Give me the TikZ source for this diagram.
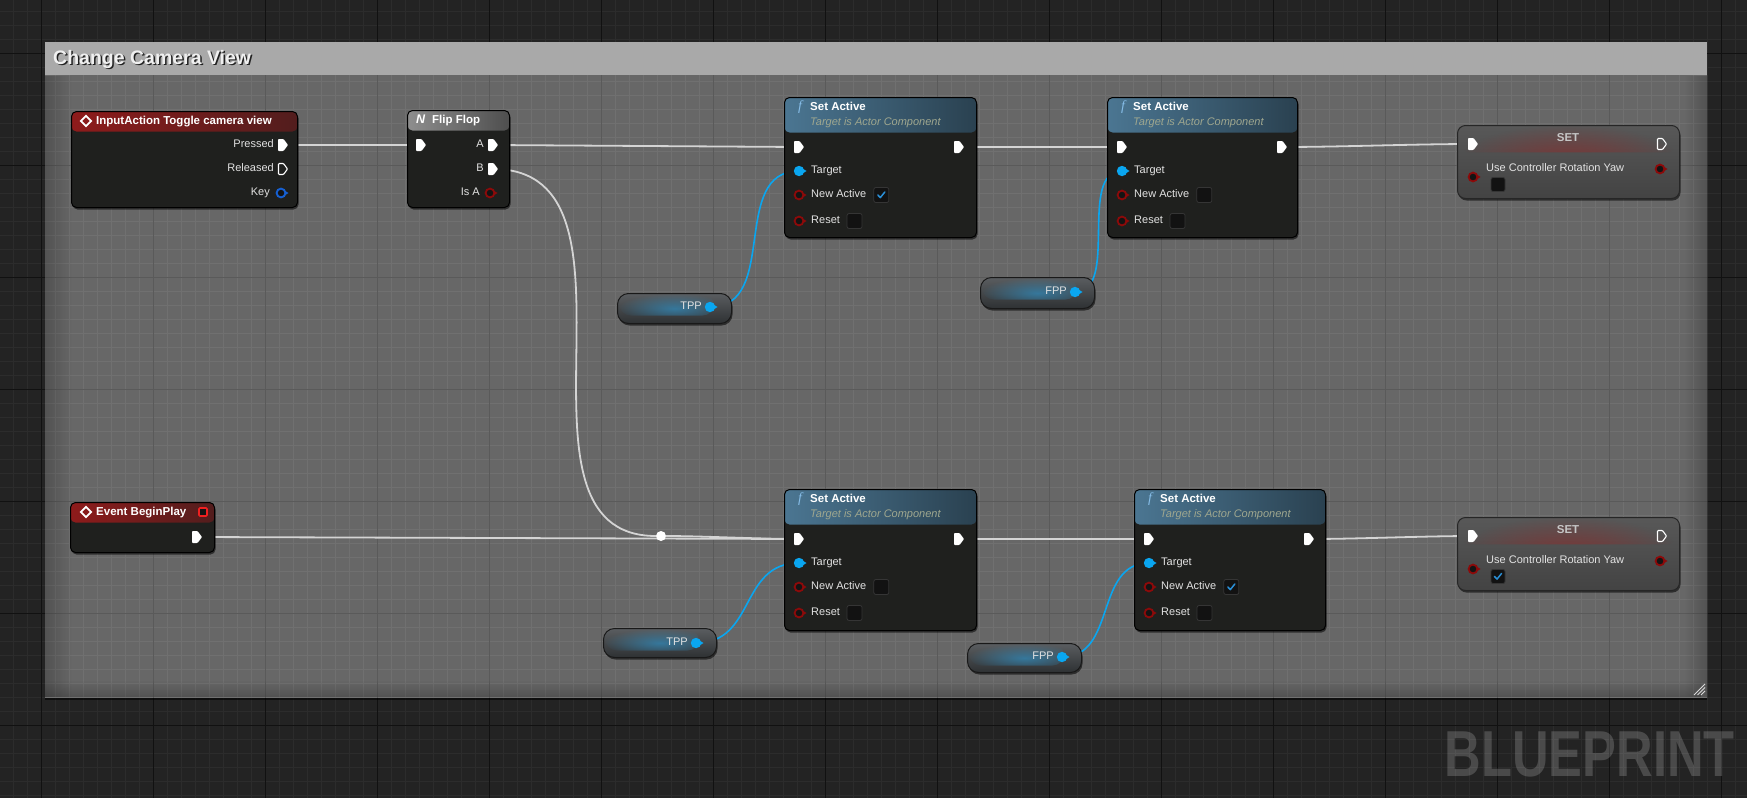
\documentclass[tikz,border=0pt]{standalone}
\usepackage{fontspec}
\setmainfont{Liberation Sans}
\newfontfamily\iconserif{Liberation Serif}
\usetikzlibrary{positioning,shapes.geometric,shadows,fadings}
\definecolor{cCanvas}{HTML}{232323}
\definecolor{cGridFine}{HTML}{2C2C2C}
\definecolor{cGridMajor}{HTML}{111111}
\definecolor{cComment}{HTML}{676767}
\definecolor{cCommentFine}{HTML}{707070}
\definecolor{cCommentMajor}{HTML}{5A5A5A}
\definecolor{cCommentHead}{HTML}{A9A9A9}
\definecolor{cBody}{HTML}{1F201E}
\definecolor{cEventL}{HTML}{8E1B1B}
\definecolor{cEventR}{HTML}{521D1D}
\definecolor{cMacroL}{HTML}{8E8E8E}
\definecolor{cMacroR}{HTML}{4E4E4E}
\definecolor{cFuncL}{HTML}{4B7692}
\definecolor{cFuncR}{HTML}{2A4150}
\definecolor{cFuncSub}{HTML}{9FA78F}
\definecolor{cFuncIcon}{HTML}{86BDE8}
\definecolor{cSetTop}{HTML}{585858}
\definecolor{cSetBot}{HTML}{434343}
\definecolor{cSetGlow}{HTML}{8E2C2C}
\definecolor{cVarTop}{HTML}{5A5D60}
\definecolor{cVarBot}{HTML}{2E3133}
\definecolor{cVarGlow}{HTML}{2E92C8}
\definecolor{cText}{HTML}{E2E2E2}
\definecolor{cSetTitle}{HTML}{C6C6C6}
\definecolor{cWire}{HTML}{D4D4D4}
\definecolor{cObj}{HTML}{0AA6F0}
\definecolor{cBool}{HTML}{8C0A0A}
\definecolor{cStruct}{HTML}{1660D2}
\definecolor{cHole}{HTML}{141414}
\definecolor{cBoxFill}{HTML}{121212}
\definecolor{cBoxEdge}{HTML}{353535}
\definecolor{cCheck}{HTML}{2A8FD6}
\definecolor{cRedIcon}{HTML}{F02020}
\pgfdeclarelayer{bg}
\pgfdeclarelayer{wires}
\pgfsetlayers{bg,wires,main}
\tikzfading[name=fade-right, left color=transparent!0, right color=transparent!100]
\tikzfading[name=fade-left, left color=transparent!100, right color=transparent!0]
\tikzfading[name=fade-up, top color=transparent!100, bottom color=transparent!0]
\tikzfading[name=fade-glow, inner color=transparent!0, outer color=transparent!100]
\tikzset{
  grid-fine/.style={draw=cGridFine,line width=1pt},
  grid-major/.style={draw=cGridMajor,line width=1.2pt},
  comment-fine/.style={draw=cCommentFine,line width=1pt},
  comment-major/.style={draw=cCommentMajor,line width=1.2pt},
  node-shadow/.style={drop shadow={shadow xshift=1pt,shadow yshift=-2pt,opacity=0.55,fill=black}},
  node-body/.style={draw=black,line width=1pt,fill=cBody,rounded corners=5pt,
    anchor=north west,inner sep=0pt,node-shadow},
  head-event/.style={path picture={\shade[left color=cEventL,right color=cEventR]
    (path picture bounding box.north west) rectangle ([yshift=-#1]path picture bounding box.north east);}},
  head-macro/.style={path picture={\shade[left color=cMacroL,right color=cMacroR]
    (path picture bounding box.north west) rectangle ([yshift=-#1]path picture bounding box.north east);}},
  head-func/.style={path picture={\shade[left color=cFuncL,right color=cFuncR]
    (path picture bounding box.north west) rectangle ([yshift=-#1]path picture bounding box.north east);}},
  set-body/.style={draw=black!85,line width=1pt,rounded corners=8pt,anchor=north west,inner sep=0pt,
    top color=cSetTop,bottom color=cSetBot,node-shadow,
    path picture={\fill[cSetGlow,opacity=0.7,path fading=fade-glow]
      ([xshift=4pt,yshift=1pt]path picture bounding box.north west) rectangle
      ([xshift=-4pt,yshift=-27pt]path picture bounding box.north east);}},
  var-body/.style={draw=black!90,line width=1pt,rounded corners=11pt,anchor=north west,inner sep=0pt,
    top color=cVarTop,bottom color=cVarBot,node-shadow,
    path picture={\fill[cVarGlow,opacity=0.65,path fading=fade-glow]
      ([xshift=2pt,yshift=0pt]path picture bounding box.north west) rectangle
      ([xshift=-18pt,yshift=-22pt]path picture bounding box.north east);}},
  title-text/.style={font=\fontsize{11.5}{13}\selectfont\bfseries,text=white,inner sep=0pt,
    anchor=west,text height=8.5pt,text depth=2.5pt},
  sub-text/.style={font=\fontsize{11}{13}\selectfont\itshape,text=cFuncSub,inner sep=0pt,
    anchor=west,text height=8pt,text depth=2.3pt},
  pin-label/.style={font=\fontsize{11}{13}\selectfont,text=cText,inner sep=0pt,
    text height=8pt,text depth=2.3pt},
  func-icon/.style={font=\fontsize{14}{14}\selectfont\iconserif\itshape,text=cFuncIcon,inner sep=0pt},
  event-icon/.style={diamond,draw=white,line width=1.7pt,inner sep=0pt,minimum size=11pt},
  check-box/.style={draw=cBoxEdge,fill=cBoxFill,line width=0.8pt,rounded corners=2pt,
    minimum size=15pt,inner sep=0pt},
  knot/.style={circle,fill=white,minimum size=10pt,inner sep=0pt},
  wire-exec/.style={draw=cWire,line width=1.8pt},
  wire-obj/.style={draw=cObj,line width=1.6pt},
  pics/pin-exec/.style={code={\fill[white,rounded corners=0.8pt]
    (-5,-6) -- (0.5,-6) -- (5,0) -- (0.5,6) -- (-5,6) -- cycle;}},
  pics/pin-exec-open/.style={code={\draw[white,line width=1.1pt,rounded corners=0.8pt]
    (-4.5,-5.5) -- (0.5,-5.5) -- (4.5,0) -- (0.5,5.5) -- (-4.5,5.5) -- cycle;}},
  pics/pin-obj/.style={code={\fill[cObj] (3,-2.8) -- (7.5,0) -- (3,2.8) -- cycle;
    \fill[cObj] (0,0) circle[radius=5.2];}},
  pics/pin-bool/.style={code={\fill[cBool] (3,-2.8) -- (7.5,0) -- (3,2.8) -- cycle;
    \draw[cBool,line width=1.8pt,fill=cHole] (0,0) circle[radius=4.4];}},
  pics/pin-struct/.style={code={\fill[cStruct] (3,-2.8) -- (7.5,0) -- (3,2.8) -- cycle;
    \draw[cStruct,line width=1.9pt,fill=cHole] (0,0) circle[radius=4.4];}},
  pics/check-tick/.style={code={\draw[cCheck,line width=1.5pt,line cap=round,line join=round]
    (-3.5,0) -- (-1,2.6) -- (3.5,-3);}},
}
\begin{document}
\begin{tikzpicture}[x=1pt,y=-1pt]
\useasboundingbox (0,0) rectangle (1747,798);

% canvas and comment box
\begin{pgfonlayer}{bg}
  \fill[cCanvas] (0,0) rectangle (1747,798);
  \foreach \k in {0,...,124} \draw[grid-fine] ({13.7+14*\k},0) -- ({13.7+14*\k},798);
  \foreach \k in {0,...,56} \draw[grid-fine] (0,{11.3+14*\k}) -- (1747,{11.3+14*\k});
  \foreach \k in {0,...,15} \draw[grid-major] ({41.7+112*\k},0) -- ({41.7+112*\k},798);
  \foreach \k in {0,...,6} \draw[grid-major] (0,{53.3+112*\k}) -- (1747,{53.3+112*\k});
  \fill[cComment,drop shadow={shadow xshift=0pt,shadow yshift=-3pt,opacity=0.6,fill=black}]
    (45,42) rectangle (1707,697);
  \begin{scope}
    \clip (45,75) rectangle (1707,697);
    \foreach \k in {0,...,124} \draw[comment-fine] ({13.7+14*\k},0) -- ({13.7+14*\k},798);
    \foreach \k in {0,...,56} \draw[comment-fine] (0,{11.3+14*\k}) -- (1747,{11.3+14*\k});
    \foreach \k in {0,...,15} \draw[comment-major] ({41.7+112*\k},0) -- ({41.7+112*\k},798);
    \foreach \k in {0,...,6} \draw[comment-major] (0,{53.3+112*\k}) -- (1747,{53.3+112*\k});
    \fill[black,opacity=0.2,path fading=fade-right] (45,75) rectangle (72,697);
    \fill[black,opacity=0.2,path fading=fade-left] (1684,75) rectangle (1707,697);
    \fill[black,opacity=0.2,path fading=fade-up] (45,680) rectangle (1707,697);
  \end{scope}
  \fill[cCommentHead] (45,42) rectangle (1707,75);
\end{pgfonlayer}
\node[font=\fontsize{19.5}{22}\selectfont\bfseries,text=black,opacity=0.8,inner sep=0pt,anchor=west]
  (cv-title-shadow) at (54.5,60.5) {Change Camera View};
\node[font=\fontsize{19.5}{22}\selectfont\bfseries,text=white!94!black,inner sep=0pt,anchor=west]
  (cv-title) at (53,59) {Change Camera View};
\foreach \i in {0,3.5,7}
  \draw[white!85!black,line width=0.9pt] (1694+\i,695) -- (1705,684+\i);

% InputAction node
\node[node-body,head-event=20pt,minimum width=226pt,minimum height=96pt] (ia) at (71,111) {};
\node[event-icon] (ia-icon) at (86,121) {};
\node[title-text] (ia-title) at (96,121) {InputAction Toggle camera view};
\coordinate (ia-pressed) at (283,145);
\coordinate (ia-released) at (283,169);
\coordinate (ia-key) at (281,193);
\pic at (ia-pressed) {pin-exec};
\pic at (ia-released) {pin-exec-open};
\pic at (ia-key) {pin-struct};
\node[pin-label,left=9pt of ia-pressed] (ia-pressed-l) {Pressed};
\node[pin-label,left=9pt of ia-released] (ia-released-l) {Released};
\node[pin-label,left=11pt of ia-key] (ia-key-l) {Key};

% Flip Flop node
\node[node-body,head-macro=20pt,minimum width=102pt,minimum height=97pt] (ff) at (407,110) {};
\node[title-text,font=\fontsize{12.5}{13}\selectfont\bfseries\itshape] (ff-icon) at (416,120) {N};
\node[title-text] (ff-title) at (432,120) {Flip Flop};
\coordinate (ff-in) at (421,145);
\coordinate (ff-a) at (493,145);
\coordinate (ff-b) at (493,169);
\coordinate (ff-isa) at (490,193);
\pic at (ff-in) {pin-exec};
\pic at (ff-a) {pin-exec};
\pic at (ff-b) {pin-exec};
\pic at (ff-isa) {pin-bool};
\node[pin-label,left=9pt of ff-a] (ff-a-l) {A};
\node[pin-label,left=9pt of ff-b] (ff-b-l) {B};
\node[pin-label,left=10pt of ff-isa] (ff-isa-l) {Is A};

% Set Active, top left
\node[node-body,head-func=35pt,minimum width=192pt,minimum height=140pt] (sa1) at (784,97) {};
\node[func-icon] (sa1-icon) at (800,107) {f};
\node[title-text] (sa1-title) at (810,107) {Set Active};
\node[sub-text] (sa1-sub) at (810,123) {Target is Actor Component};
\coordinate (sa1-in) at (799,147);
\coordinate (sa1-out) at (959,147);
\coordinate (sa1-target) at (799,171);
\coordinate (sa1-na) at (799,195);
\coordinate (sa1-reset) at (799,221);
\pic at (sa1-in) {pin-exec};
\pic at (sa1-out) {pin-exec};
\pic at (sa1-target) {pin-obj};
\pic at (sa1-na) {pin-bool};
\pic at (sa1-reset) {pin-bool};
\node[pin-label,right=12pt of sa1-target] (sa1-target-l) {Target};
\node[pin-label,right=12pt of sa1-na] (sa1-na-l) {New Active};
\node[pin-label,right=12pt of sa1-reset] (sa1-reset-l) {Reset};
\node[check-box,right=7pt of sa1-na-l] (sa1-na-box) {};
\node[check-box,right=6.5pt of sa1-reset-l] (sa1-reset-box) {};
\pic at (sa1-na-box) {check-tick};

% Set Active, top right
\node[node-body,head-func=35pt,minimum width=190pt,minimum height=140pt] (sa2) at (1107,97) {};
\node[func-icon] (sa2-icon) at (1123,107) {f};
\node[title-text] (sa2-title) at (1133,107) {Set Active};
\node[sub-text] (sa2-sub) at (1133,123) {Target is Actor Component};
\coordinate (sa2-in) at (1122,147);
\coordinate (sa2-out) at (1282,147);
\coordinate (sa2-target) at (1122,171);
\coordinate (sa2-na) at (1122,195);
\coordinate (sa2-reset) at (1122,221);
\pic at (sa2-in) {pin-exec};
\pic at (sa2-out) {pin-exec};
\pic at (sa2-target) {pin-obj};
\pic at (sa2-na) {pin-bool};
\pic at (sa2-reset) {pin-bool};
\node[pin-label,right=12pt of sa2-target] (sa2-target-l) {Target};
\node[pin-label,right=12pt of sa2-na] (sa2-na-l) {New Active};
\node[pin-label,right=12pt of sa2-reset] (sa2-reset-l) {Reset};
\node[check-box,right=7pt of sa2-na-l] (sa2-na-box) {};
\node[check-box,right=6.5pt of sa2-reset-l] (sa2-reset-box) {};

% Set Active, bottom left
\node[node-body,head-func=35pt,minimum width=192pt,minimum height=141pt] (sa3) at (784,489) {};
\node[func-icon] (sa3-icon) at (800,499) {f};
\node[title-text] (sa3-title) at (810,499) {Set Active};
\node[sub-text] (sa3-sub) at (810,515) {Target is Actor Component};
\coordinate (sa3-in) at (799,539);
\coordinate (sa3-out) at (959,539);
\coordinate (sa3-target) at (799,563);
\coordinate (sa3-na) at (799,587);
\coordinate (sa3-reset) at (799,613);
\pic at (sa3-in) {pin-exec};
\pic at (sa3-out) {pin-exec};
\pic at (sa3-target) {pin-obj};
\pic at (sa3-na) {pin-bool};
\pic at (sa3-reset) {pin-bool};
\node[pin-label,right=12pt of sa3-target] (sa3-target-l) {Target};
\node[pin-label,right=12pt of sa3-na] (sa3-na-l) {New Active};
\node[pin-label,right=12pt of sa3-reset] (sa3-reset-l) {Reset};
\node[check-box,right=7pt of sa3-na-l] (sa3-na-box) {};
\node[check-box,right=6.5pt of sa3-reset-l] (sa3-reset-box) {};

% Set Active, bottom right
\node[node-body,head-func=35pt,minimum width=191pt,minimum height=141pt] (sa4) at (1134,489) {};
\node[func-icon] (sa4-icon) at (1150,499) {f};
\node[title-text] (sa4-title) at (1160,499) {Set Active};
\node[sub-text] (sa4-sub) at (1160,515) {Target is Actor Component};
\coordinate (sa4-in) at (1149,539);
\coordinate (sa4-out) at (1309,539);
\coordinate (sa4-target) at (1149,563);
\coordinate (sa4-na) at (1149,587);
\coordinate (sa4-reset) at (1149,613);
\pic at (sa4-in) {pin-exec};
\pic at (sa4-out) {pin-exec};
\pic at (sa4-target) {pin-obj};
\pic at (sa4-na) {pin-bool};
\pic at (sa4-reset) {pin-bool};
\node[pin-label,right=12pt of sa4-target] (sa4-target-l) {Target};
\node[pin-label,right=12pt of sa4-na] (sa4-na-l) {New Active};
\node[pin-label,right=12pt of sa4-reset] (sa4-reset-l) {Reset};
\node[check-box,right=7pt of sa4-na-l] (sa4-na-box) {};
\node[check-box,right=6.5pt of sa4-reset-l] (sa4-reset-box) {};
\pic at (sa4-na-box) {check-tick};

% SET nodes
\node[set-body,minimum width=222pt,minimum height=73pt] (set1) at (1457,125) {};
\node[title-text,text=cSetTitle,anchor=center] (set1-title) at (1568,138) {SET};
\coordinate (set1-in) at (1473,144);
\coordinate (set1-out) at (1662,144);
\coordinate (set1-val) at (1473,177);
\coordinate (set1-ret) at (1660,169);
\pic at (set1-in) {pin-exec};
\pic at (set1-out) {pin-exec-open};
\pic at (set1-val) {pin-bool};
\pic at (set1-ret) {pin-bool};
\node[pin-label,anchor=west] (set1-label) at (1486,169) {Use Controller Rotation Yaw};
\node[check-box,minimum size=14pt] (set1-box) at (1498,184.5) {};

\node[set-body,minimum width=222pt,minimum height=73pt] (set2) at (1457,517) {};
\node[title-text,text=cSetTitle,anchor=center] (set2-title) at (1568,530) {SET};
\coordinate (set2-in) at (1473,536);
\coordinate (set2-out) at (1662,536);
\coordinate (set2-val) at (1473,569);
\coordinate (set2-ret) at (1660,561);
\pic at (set2-in) {pin-exec};
\pic at (set2-out) {pin-exec-open};
\pic at (set2-val) {pin-bool};
\pic at (set2-ret) {pin-bool};
\node[pin-label,anchor=west] (set2-label) at (1486,561) {Use Controller Rotation Yaw};
\node[check-box,minimum size=14pt] (set2-box) at (1498,576.5) {};
\pic at (set2-box) {check-tick};

% variable getters
\node[var-body,minimum width=114pt,minimum height=30pt] (tpp1) at (617,293) {};
\coordinate (tpp1-pin) at (710,307);
\pic at (tpp1-pin) {pin-obj};
\node[pin-label,left=8pt of tpp1-pin] (tpp1-l) {TPP};
\node[var-body,minimum width=114pt,minimum height=31pt] (fpp1) at (980,277) {};
\coordinate (fpp1-pin) at (1075,292);
\pic at (fpp1-pin) {pin-obj};
\node[pin-label,left=8pt of fpp1-pin] (fpp1-l) {FPP};
\node[var-body,minimum width=113pt,minimum height=29pt] (tpp2) at (603,628) {};
\coordinate (tpp2-pin) at (696,643);
\pic at (tpp2-pin) {pin-obj};
\node[pin-label,left=8pt of tpp2-pin] (tpp2-l) {TPP};
\node[var-body,minimum width=114pt,minimum height=29pt] (fpp2) at (967,643) {};
\coordinate (fpp2-pin) at (1062,657);
\pic at (fpp2-pin) {pin-obj};
\node[pin-label,left=8pt of fpp2-pin] (fpp2-l) {FPP};

% Event BeginPlay
\node[node-body,head-event=20pt,minimum width=144pt,minimum height=50pt] (eb) at (70,502) {};
\node[event-icon] (eb-icon) at (86,512) {};
\node[title-text] (eb-title) at (96,512) {Event BeginPlay};
\node[draw=cRedIcon,line width=1.6pt,fill=cHole,minimum size=8pt,inner sep=0pt,rounded corners=1pt]
  (eb-latent) at (203,512) {};
\coordinate (eb-out) at (197,537);
\pic at (eb-out) {pin-exec};

\node[knot] (knot) at (661,536) {};

% wires
\begin{pgfonlayer}{wires}
  \draw[wire-exec] (ia-pressed) -- (ff-in);
  \draw[wire-exec] (ff-a) -- (sa1-in);
  \draw[wire-exec] (sa1-out) -- (sa2-in);
  \draw[wire-exec] (sa2-out) .. controls +(60,0) and +(-60,0) .. (set1-in);
  \draw[wire-exec] (ff-b) .. controls +(170,0) and +(-170,0) .. (knot);
  \draw[wire-exec] (eb-out) -- (sa3-in);
  \draw[wire-exec] (knot) .. controls +(40,0) and +(-40,0) .. (sa3-in);
  \draw[wire-exec] (sa3-out) -- (sa4-in);
  \draw[wire-exec] (sa4-out) .. controls +(50,0) and +(-50,0) .. (set2-in);
  \draw[wire-obj] (tpp1-pin) .. controls +(70,0) and +(-70,0) .. (sa1-target);
  \draw[wire-obj] (fpp1-pin) .. controls +(45,0) and +(-45,0) .. (sa2-target);
  \draw[wire-obj] (tpp2-pin) .. controls +(60,0) and +(-60,0) .. (sa3-target);
  \draw[wire-obj] (fpp2-pin) .. controls +(55,0) and +(-55,0) .. (sa4-target);
\end{pgfonlayer}

\node[font=\fontsize{65}{70}\selectfont\bfseries,text=white,text opacity=0.18,inner sep=0pt,anchor=base east]
  (watermark) at (1735,776) {\scalebox{0.78}[1]{BLUEPRINT}};
\end{tikzpicture}
\end{document}
